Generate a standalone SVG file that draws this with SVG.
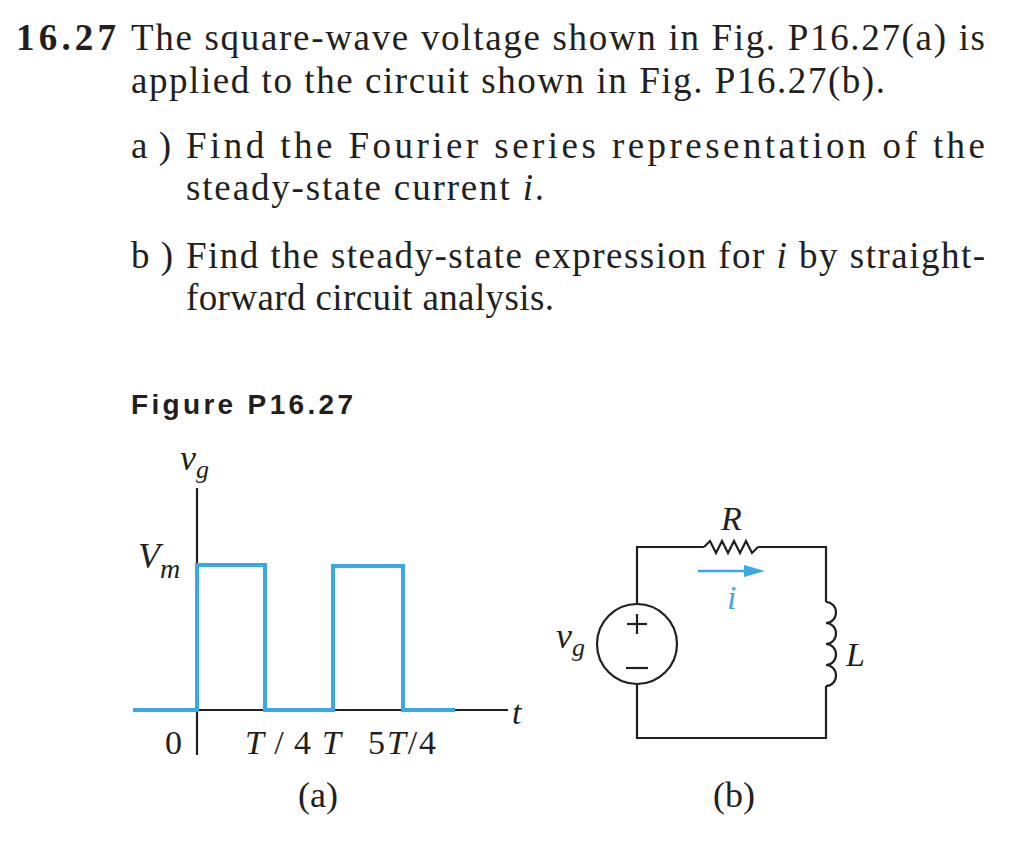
<svg xmlns="http://www.w3.org/2000/svg" width="1024" height="851" viewBox="0 0 1024 851">
<style>
.t{font-family:"Liberation Serif",serif;font-size:37px;fill:#231f20}
.i{font-family:"Liberation Serif",serif;font-style:italic;fill:#231f20}
.n{font-family:"Liberation Serif",serif;fill:#231f20}
.w{fill:none;stroke:#231f20;stroke-width:2.2}
.b{fill:none;stroke:#3aa9e3;stroke-width:4}
</style>
<rect width="1024" height="851" fill="#fff"/>
<g id="text">
<text class="t" x="16" y="50" font-weight="bold" textLength="100">16.27</text>
<text class="t" x="131" y="50" textLength="854">The square-wave voltage shown in Fig. P16.27(a) is</text>
<text class="t" x="131" y="93" textLength="754">applied to the circuit shown in Fig. P16.27(b).</text>
<text class="t" x="131" y="158" textLength="40">a)</text>
<text class="t" x="186" y="158" textLength="799">Find the Fourier series representation of the</text>
<text class="t" x="186" y="200" textLength="358">steady-state current <tspan font-style="italic">i</tspan>.</text>
<text class="t" x="131" y="268" textLength="42">b)</text>
<text class="t" x="186" y="268" textLength="799">Find the steady-state expression for <tspan font-style="italic">i</tspan> by straight-</text>
<text class="t" x="186" y="310" textLength="368">forward circuit analysis.</text>
<text x="131" y="414" font-family="Liberation Sans,sans-serif" font-weight="bold" font-size="28" fill="#231f20" textLength="222">Figure P16.27</text>
</g>
<g id="graph">
<line class="w" x1="197" y1="488" x2="197" y2="755"/>
<line class="w" x1="197" y1="710" x2="508" y2="710"/>
<polyline class="b" points="133,710 197,710 197,565 265,565 265,710 333,710 333,566 403,566 403,710 455,710"/>
<text class="i" x="180" y="470" font-size="36">v<tspan font-size="26" dy="8">g</tspan></text>
<text class="i" x="138" y="568" font-size="36">V<tspan font-size="28" dy="10">m</tspan></text>
<text class="i" x="512" y="724" font-size="34">t</text>
<text class="n" x="165" y="754" font-size="34">0</text>
<text class="i" x="245" y="754" font-size="34" textLength="66">T<tspan font-style="normal">/4</tspan></text>
<text class="i" x="322" y="754" font-size="34">T</text>
<text class="n" x="368" y="754" font-size="34" textLength="68">5<tspan font-style="italic">T</tspan>/4</text>
<text class="n" x="298" y="807" font-size="36">(a)</text>
</g>
<g id="source">
<circle class="w" cx="637" cy="644" r="40"/>
<line class="w" x1="627" y1="624" x2="647" y2="624"/><line class="w" x1="637" y1="614" x2="637" y2="634"/>
<line class="w" x1="626" y1="668" x2="648" y2="668"/>
<text class="i" x="556" y="648" font-size="36">v<tspan font-size="26" dy="8">g</tspan></text>
</g>
<g id="resistor">
<polyline class="w" points="704,547 710,541 716,553 722,541 728,553 734,541 740,553 746,541 752,553 758,547"/>
<text class="i" x="721" y="530" font-size="34">R</text>
</g>
<g id="inductor">
<path class="w" d="M826,602 a10,10.5 0 0 1 0,21 a10,10.5 0 0 1 0,21 a10,10.5 0 0 1 0,21 a10,10.5 0 0 1 0,21"/>
<text class="i" x="846" y="666" font-size="34">L</text>
</g>
<g id="connectors">
<polyline class="w" points="637,604 637,547 704,547"/>
<polyline class="w" points="758,547 826,547 826,602"/>
<polyline class="w" points="826,686 826,738 637,738 637,684"/>
<line x1="698" y1="571" x2="748" y2="571" stroke="#3aa9e3" stroke-width="2.5"/>
<polygon points="765,571 744,565 744,577" fill="#3aa9e3"/>
<text x="727" y="609" font-family="Liberation Serif,serif" font-style="italic" font-size="34" fill="#3aa9e3">i</text>
<text class="n" x="713" y="807" font-size="36">(b)</text>
</g>
</svg>
